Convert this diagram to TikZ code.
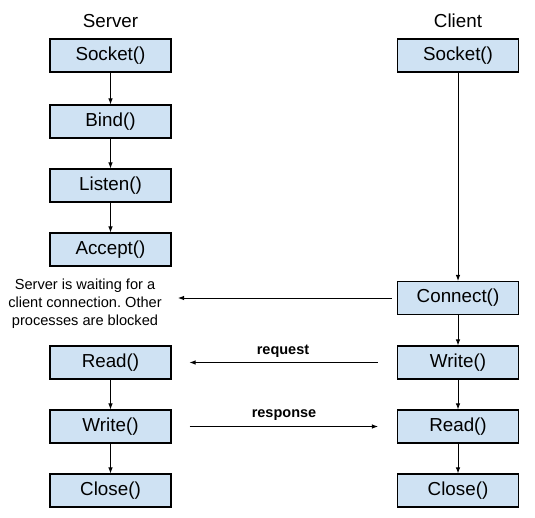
\documentclass[tikz,border=0pt]{standalone}
\usepackage{fontspec}
\setmainfont{Liberation Sans}
\usetikzlibrary{arrows.meta}
\definecolor{boxblue}{HTML}{CFE2F3}
\frenchspacing
\begin{document}
\begin{tikzpicture}[x=1pt,y=-1pt,
  fn/.style={draw=black, line width=1.1pt, fill=boxblue, minimum width=121pt, minimum height=33pt, inner sep=0pt, font=\fontsize{18.8}{22}\selectfont},
  hd/.style={font=\fontsize{18.8}{22}\selectfont, inner sep=0pt},
  lbl/.style={font=\bfseries\fontsize{14.5}{17}\selectfont, inner sep=0pt},
  arr/.style={draw=black, line width=0.9pt, -{Latex[length=6pt,width=4.5pt]}}]
\useasboundingbox (0,0) rectangle (535,518);
\node[hd] (shd) at (110.5,21) {Server};
\node[hd] (chd) at (458,21) {Client};
\node[fn] (ssock) at (110.5,55.5) {Socket()};
\node[fn] (sbind) at (110.5,121.5) {Bind()};
\node[fn] (slist) at (110.5,185.5) {Listen()};
\node[fn] (sacc) at (110.5,249.5) {Accept()};
\node[fn] (sread) at (110.5,362.5) {Read()};
\node[fn] (swrite) at (110.5,426.5) {Write()};
\node[fn] (sclose) at (110.5,490.5) {Close()};
\node[fn] (csock) at (458,55.5) {Socket()};
\node[fn] (cconn) at (458,298) {Connect()};
\node[fn] (cwrite) at (458,362.5) {Write()};
\node[fn] (cread) at (458,426.5) {Read()};
\node[fn] (cclose) at (458,490.5) {Close()};
\node[align=center, inner sep=0pt, font=\fontsize{14.6}{18}\selectfont] (wait) at (85,304) {Server is waiting for a\\client connection. Other\\processes are blocked};
\coordinate (waitend) at (178,298);
\draw[arr] (ssock) -- (sbind);
\draw[arr] (sbind) -- (slist);
\draw[arr] (slist) -- (sacc);
\draw[arr] (sread) -- (swrite);
\draw[arr] (swrite) -- (sclose);
\draw[arr] (csock) -- (cconn);
\draw[arr] (cconn) -- (cwrite);
\draw[arr] (cwrite) -- (cread);
\draw[arr] (cread) -- (cclose);
\draw[arr, shorten <=5pt] (cconn.west) -- (waitend);
\draw[arr, shorten <=19pt, shorten >=18pt] (cwrite.west) -- (sread.east);
\draw[arr, shorten <=18pt, shorten >=19pt] (swrite.east) -- (cread.west);
\node[lbl] (req) at (283,351) {request};
\node[lbl] (resp) at (284,415) {response};
\end{tikzpicture}
\end{document}
